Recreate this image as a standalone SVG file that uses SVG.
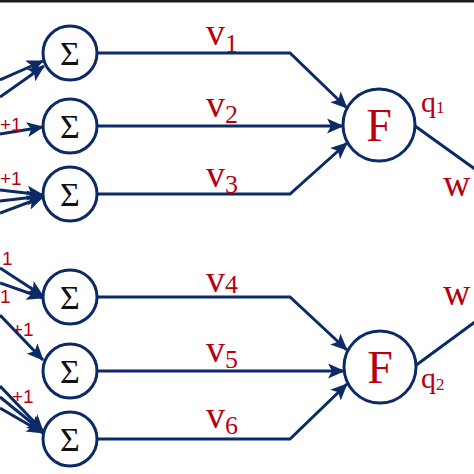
<svg xmlns="http://www.w3.org/2000/svg" width="474" height="474" viewBox="0 0 474 474">
<style>
.n{fill:#fff;stroke:#0c2a66;stroke-width:3}
.c{fill:none;stroke:#0c2a66;stroke-width:3}
.s{font-family:"Liberation Serif","DejaVu Serif",serif;font-size:34px;fill:#111;text-anchor:middle}
.f{font-family:"Liberation Serif","DejaVu Serif",serif;font-size:46px;fill:#b80010;text-anchor:middle}
.v{font-family:"Liberation Serif","DejaVu Serif",serif;font-size:38px;fill:#b80010}
.sub{font-size:26px}
.q{font-family:"Liberation Serif","DejaVu Serif",serif;font-size:30px;fill:#b80010}
.qs{font-size:17px}
.p{font-family:"Liberation Sans","DejaVu Sans",sans-serif;font-size:19px;fill:#b80010}
</style>
<defs>
<marker id="ah" markerUnits="userSpaceOnUse" markerWidth="17" markerHeight="15" refX="16" refY="7.5" orient="auto">
<path d="M0,0 L17,7.5 L0,15 L4,7.5 z" fill="#0c2a66"/>
</marker>
</defs>
<rect x="0" y="0" width="474" height="2.5" fill="#1c1c1c"/>
<g id="connectors">
<path class="c" marker-end="url(#ah)" d="M0,80 L43,61"/>
<path class="c" marker-end="url(#ah)" d="M0,97 L44,66"/>
<path class="c" marker-end="url(#ah)" d="M0,134 L43,127"/>
<path class="c" marker-end="url(#ah)" d="M0,190 L43,195"/>
<path class="c" marker-end="url(#ah)" d="M0,201 L43,196"/>
<path class="c" marker-end="url(#ah)" d="M0,213 L43,197"/>
<path class="c" marker-end="url(#ah)" d="M0,268 L43,296"/>
<path class="c" marker-end="url(#ah)" d="M0,283 L43,298"/>
<path class="c" marker-end="url(#ah)" d="M0,315 L43,360"/>
<path class="c" marker-end="url(#ah)" d="M0,386 L43,431"/>
<path class="c" marker-end="url(#ah)" d="M0,397 L43,432"/>
<path class="c" marker-end="url(#ah)" d="M0,408 L43,433"/>
<path class="c" marker-end="url(#ah)" d="M97,53 H290 L347,108"/>
<path class="c" marker-end="url(#ah)" d="M97,126 H343"/>
<path class="c" marker-end="url(#ah)" d="M97,194 H290 L347,143"/>
<path class="c" marker-end="url(#ah)" d="M97,297 H290 L347,350"/>
<path class="c" marker-end="url(#ah)" d="M97,371 H344"/>
<path class="c" marker-end="url(#ah)" d="M97,439 H290 L347,384"/>
<path class="c" d="M415,126 L475,169"/>
<path class="c" d="M415,366 L475,322"/>
</g>
<g id="labels">
<text class="p" x="0" y="131">+1</text>
<text class="p" x="0" y="185">+1</text>
<text class="p" x="2" y="265">1</text>
<text class="p" x="0" y="303">1</text>
<text class="p" x="12" y="336">+1</text>
<text class="p" x="12" y="403">+1</text>
<text class="v" x="206" y="45">v<tspan class="sub" dy="7">1</tspan></text>
<text class="v" x="206" y="117">v<tspan class="sub" dy="6">2</tspan></text>
<text class="v" x="206" y="187">v<tspan class="sub" dy="6">3</tspan></text>
<text class="v" x="206" y="292">v<tspan class="sub" dy="1">4</tspan></text>
<text class="v" x="206" y="362">v<tspan class="sub" dy="6">5</tspan></text>
<text class="v" x="206" y="428">v<tspan class="sub" dy="6">6</tspan></text>
<text class="q" x="421" y="112">q<tspan class="qs" dy="1">1</tspan></text>
<text class="q" x="421" y="388">q<tspan class="qs" dy="2">2</tspan></text>
<text class="v" x="443" y="196">w</text>
<text class="v" x="443" y="305">w</text>
</g>
<g id="sum1"><circle class="n" cx="70" cy="53" r="27"/><text class="s" x="70" y="65">Σ</text></g>
<g id="sum2"><circle class="n" cx="70" cy="126" r="27"/><text class="s" x="70" y="138">Σ</text></g>
<g id="sum3"><circle class="n" cx="70" cy="194" r="27"/><text class="s" x="70" y="206">Σ</text></g>
<g id="sum4"><circle class="n" cx="70" cy="297" r="27"/><text class="s" x="70" y="309">Σ</text></g>
<g id="sum5"><circle class="n" cx="70" cy="371" r="27"/><text class="s" x="70" y="383">Σ</text></g>
<g id="sum6"><circle class="n" cx="70" cy="439" r="27"/><text class="s" x="70" y="451">Σ</text></g>
<g id="F1"><circle class="n" cx="379" cy="125" r="36"/><text class="f" x="379" y="141">F</text></g>
<g id="F2"><circle class="n" cx="380" cy="367" r="36"/><text class="f" x="380" y="383">F</text></g>
</svg>
